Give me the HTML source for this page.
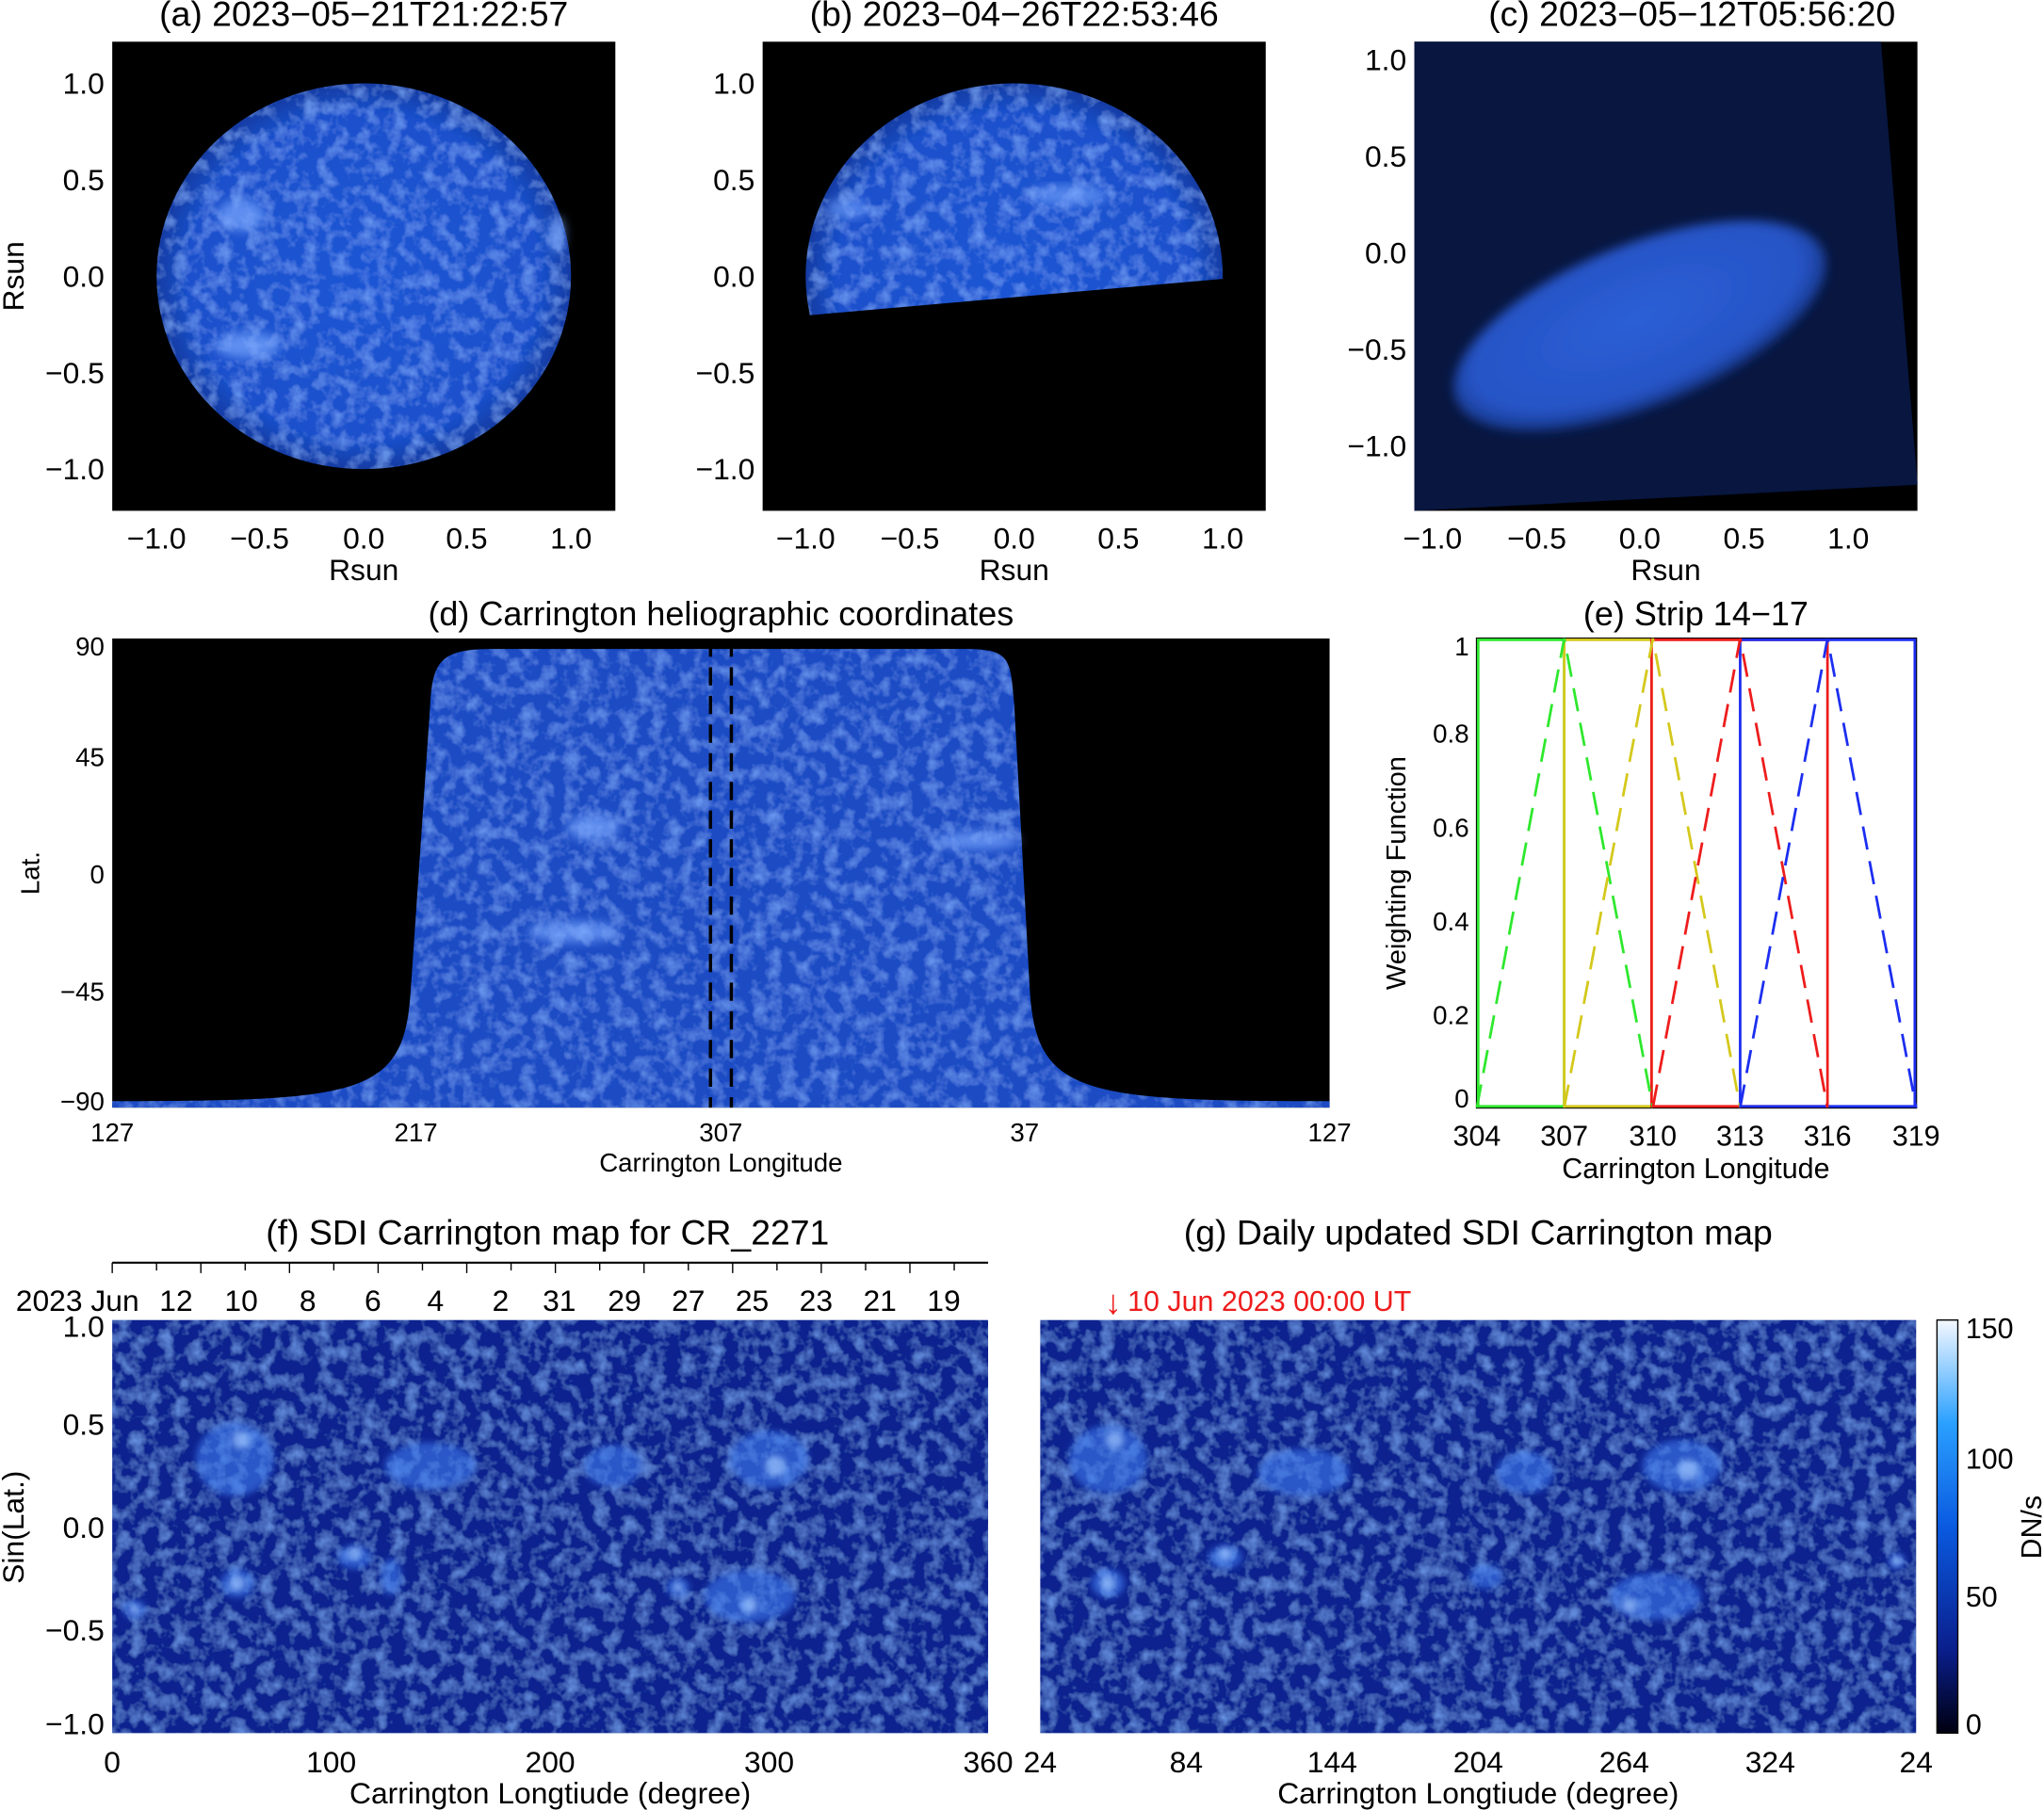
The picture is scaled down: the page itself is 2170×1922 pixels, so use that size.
<!DOCTYPE html>
<html><head><meta charset="utf-8"><style>
html,body{margin:0;padding:0;background:#fff;}
svg{display:block;}
text{font-family:"Liberation Sans",sans-serif;fill:#000;}
</style></head><body>
<svg width="2170" height="1922" viewBox="0 0 1568 1389" xmlns="http://www.w3.org/2000/svg">
<defs>
<filter id="tex" x="0" y="0" width="100%" height="100%">
<feTurbulence type="fractalNoise" baseFrequency="0.09" numOctaves="3" seed="3" result="n"/>
<feColorMatrix in="n" type="matrix" values="0 0 0 0 0.2  0 0 0 0 0.42  0 0 0 0 1  1.3 0 0 0 -0.55" result="c"/>
<feComposite in="c" in2="SourceGraphic" operator="in" result="ci"/>
<feMerge><feMergeNode in="SourceGraphic"/><feMergeNode in="ci"/></feMerge>
</filter>
<filter id="blur4"><feGaussianBlur stdDeviation="4"/></filter>
<filter id="blur2"><feGaussianBlur stdDeviation="2.5"/></filter>
<radialGradient id="disk" cx="50%" cy="50%" r="50%">
<stop offset="0" stop-color="#1c55d4"/><stop offset="0.85" stop-color="#1a50cc"/><stop offset="1" stop-color="#123ca4"/>
</radialGradient>
<radialGradient id="ell" cx="50%" cy="45%" r="55%">
<stop offset="0" stop-color="#2c5fd6"/><stop offset="0.8" stop-color="#2654c6"/><stop offset="1" stop-color="#12307a"/>
</radialGradient>
<clipPath id="cb"><polygon points="585,32 971,32 971,214 938,214 620,242 585,242"/></clipPath>
</defs>

<!-- (a) -->
<text x="279" y="20" font-size="27" text-anchor="middle">(a) 2023−05−21T21:22:57</text>
<rect x="86" y="32" width="386" height="360" fill="#000"/>
<ellipse cx="279" cy="212" rx="159" ry="148" fill="url(#disk)" filter="url(#tex)"/>
<g filter="url(#blur4)" fill="#7aa8ff" opacity="0.7">
<ellipse cx="185" cy="165" rx="18" ry="12"/><ellipse cx="190" cy="265" rx="25" ry="10"/><ellipse cx="427" cy="180" rx="6" ry="14"/>
</g>
<g font-size="23">
<text x="80" y="72" text-anchor="end">1.0</text><text x="80" y="146" text-anchor="end">0.5</text><text x="80" y="220" text-anchor="end">0.0</text><text x="80" y="294" text-anchor="end">−0.5</text><text x="80" y="368" text-anchor="end">−1.0</text>
<text x="120" y="421" text-anchor="middle">−1.0</text><text x="199" y="421" text-anchor="middle">−0.5</text><text x="279" y="421" text-anchor="middle">0.0</text><text x="358" y="421" text-anchor="middle">0.5</text><text x="438" y="421" text-anchor="middle">1.0</text>
<text x="279" y="445" text-anchor="middle">Rsun</text>
<text transform="translate(18,212) rotate(-90)" text-anchor="middle">Rsun</text>
</g>

<!-- (b) -->
<text x="778" y="20" font-size="27" text-anchor="middle">(b) 2023−04−26T22:53:46</text>
<rect x="585" y="32" width="386" height="360" fill="#000"/>
<g clip-path="url(#cb)">
<ellipse cx="778" cy="212" rx="160" ry="148" fill="url(#disk)" filter="url(#tex)"/>
<g filter="url(#blur4)" fill="#7aa8ff" opacity="0.6"><ellipse cx="820" cy="150" rx="30" ry="8"/><ellipse cx="650" cy="160" rx="16" ry="8"/></g>
</g>
<g font-size="23">
<text x="579" y="72" text-anchor="end">1.0</text><text x="579" y="146" text-anchor="end">0.5</text><text x="579" y="220" text-anchor="end">0.0</text><text x="579" y="294" text-anchor="end">−0.5</text><text x="579" y="368" text-anchor="end">−1.0</text>
<text x="618" y="421" text-anchor="middle">−1.0</text><text x="698" y="421" text-anchor="middle">−0.5</text><text x="778" y="421" text-anchor="middle">0.0</text><text x="858" y="421" text-anchor="middle">0.5</text><text x="938" y="421" text-anchor="middle">1.0</text>
<text x="778" y="445" text-anchor="middle">Rsun</text>
</g>

<!-- (c) -->
<text x="1298" y="20" font-size="27" text-anchor="middle">(c) 2023−05−12T05:56:20</text>
<rect x="1085" y="32" width="386" height="360" fill="#000"/>
<polygon points="1085,32 1443,32 1471,370 1471,372 1085,392" fill="#081640"/>
<ellipse cx="1258" cy="250" rx="152" ry="62" transform="rotate(-22 1258 250)" fill="url(#ell)" filter="url(#blur4)"/>
<g font-size="23">
<text x="1079" y="54" text-anchor="end">1.0</text><text x="1079" y="128" text-anchor="end">0.5</text><text x="1079" y="202" text-anchor="end">0.0</text><text x="1079" y="276" text-anchor="end">−0.5</text><text x="1079" y="350" text-anchor="end">−1.0</text>
<text x="1099" y="421" text-anchor="middle">−1.0</text><text x="1179" y="421" text-anchor="middle">−0.5</text><text x="1258" y="421" text-anchor="middle">0.0</text><text x="1338" y="421" text-anchor="middle">0.5</text><text x="1418" y="421" text-anchor="middle">1.0</text>
<text x="1278" y="445" text-anchor="middle">Rsun</text>
</g>

<!-- (d) -->
<text x="553" y="480" font-size="26" text-anchor="middle">(d) Carrington heliographic coordinates</text>
<rect x="86" y="490" width="934" height="360" fill="#000"/>
<path d="M86,850 L86,845 C280,845 310,840 315,760 L330,540 C332,505 340,498 380,498 L740,498 C775,498 775,505 778,540 L790,760 C795,840 830,845 1020,845 L1020,850 Z" fill="#1a4cc4" filter="url(#tex)"/>
<g filter="url(#blur4)" fill="#7aa8ff" opacity="0.7">
<ellipse cx="455" cy="635" rx="20" ry="10"/><ellipse cx="440" cy="715" rx="35" ry="8"/><ellipse cx="750" cy="645" rx="32" ry="7"/>
</g>
<line x1="545" y1="490" x2="545" y2="850" stroke="#000" stroke-width="2.5" stroke-dasharray="14,8"/>
<line x1="561" y1="490" x2="561" y2="850" stroke="#000" stroke-width="2.5" stroke-dasharray="14,8"/>
<g font-size="20">
<text x="80" y="503" text-anchor="end">90</text><text x="80" y="588" text-anchor="end">45</text><text x="80" y="678" text-anchor="end">0</text><text x="80" y="768" text-anchor="end">−45</text><text x="80" y="852" text-anchor="end">−90</text>
<text x="86" y="876" text-anchor="middle">127</text><text x="319" y="876" text-anchor="middle">217</text><text x="553" y="876" text-anchor="middle">307</text><text x="786" y="876" text-anchor="middle">37</text><text x="1020" y="876" text-anchor="middle">127</text>
<text x="553" y="899" text-anchor="middle">Carrington Longitude</text>
<text transform="translate(30,670) rotate(-90)" text-anchor="middle">Lat.</text>
</g>

<!-- (e) -->
<text x="1301" y="480" font-size="26" text-anchor="middle">(e) Strip 14−17</text>
<rect x="1133" y="490" width="337" height="360" fill="#fff" stroke="#000" stroke-width="1.5"/>
<g fill="none" stroke-width="2">
<rect x="1134" y="491" width="66" height="358" stroke="#2ee82e"/>
<rect x="1200" y="491" width="67" height="358" stroke="#d4c81c"/>
<rect x="1267" y="491" width="135" height="358" stroke="#ee1c1c"/>
<rect x="1335" y="491" width="134" height="358" stroke="#1c2ef0"/>
<g stroke-dasharray="18,9">
<polyline points="1133,850 1200,490 1268,850" stroke="#2ee82e"/>
<polyline points="1200,850 1268,490 1335,850" stroke="#d4c81c"/>
<polyline points="1268,850 1335,490 1402,850" stroke="#ee1c1c"/>
<polyline points="1335,850 1402,490 1470,850" stroke="#1c2ef0"/>
</g>
</g>
<g font-size="20">
<text x="1127" y="503" text-anchor="end">1</text><text x="1127" y="570" text-anchor="end">0.8</text><text x="1127" y="642" text-anchor="end">0.6</text><text x="1127" y="714" text-anchor="end">0.4</text><text x="1127" y="786" text-anchor="end">0.2</text><text x="1127" y="850" text-anchor="end">0</text>
<g font-size="22"><text x="1133" y="879" text-anchor="middle">304</text><text x="1200" y="879" text-anchor="middle">307</text><text x="1268" y="879" text-anchor="middle">310</text><text x="1335" y="879" text-anchor="middle">313</text><text x="1402" y="879" text-anchor="middle">316</text><text x="1470" y="879" text-anchor="middle">319</text></g>
<text x="1301" y="904" text-anchor="middle" font-size="22">Carrington Longitude</text>
<text transform="translate(1078,670) rotate(-90)" text-anchor="middle" font-size="21">Weighting Function</text>
</g>

<!-- (f) -->
<text x="420" y="955" font-size="27" text-anchor="middle">(f) SDI Carrington map for CR_2271</text>
<line x1="86" y1="969" x2="758" y2="969" stroke="#000" stroke-width="1.5"/>
<g stroke="#000" stroke-width="1">
<path d="M86,969v8M120,969v6M154,969v8M188,969v6M222,969v8M256,969v6M290,969v8M324,969v6M358,969v8M392,969v6M426,969v8M460,969v6M494,969v8M528,969v6M562,969v8M596,969v6M630,969v8M664,969v6M698,969v8M732,969v6"/>
</g>
<rect x="86" y="1013" width="672" height="317" fill="#08208e" filter="url(#tex)"/>
<g filter="url(#blur2)" fill="#3f7cf0" opacity="0.6">
<ellipse cx="180" cy="1120" rx="30" ry="28"/><ellipse cx="330" cy="1125" rx="35" ry="18"/><ellipse cx="590" cy="1120" rx="30" ry="22"/><ellipse cx="470" cy="1125" rx="22" ry="16"/>
<ellipse cx="182" cy="1215" rx="13" ry="11"/><ellipse cx="272" cy="1195" rx="13" ry="9"/><ellipse cx="575" cy="1225" rx="35" ry="20"/><ellipse cx="103" cy="1235" rx="9" ry="7"/><ellipse cx="520" cy="1218" rx="9" ry="7"/><ellipse cx="300" cy="1210" rx="8" ry="14"/>
</g>
<g filter="url(#blur2)" fill="#9cc4ff" opacity="0.7">
<circle cx="185" cy="1105" r="7"/><circle cx="595" cy="1125" r="8"/><circle cx="182" cy="1215" r="6"/><circle cx="272" cy="1192" r="5"/><circle cx="575" cy="1232" r="6"/><circle cx="103" cy="1235" r="4"/><circle cx="520" cy="1218" r="4"/>
</g>
<g font-size="23">
<text x="12" y="1006">2023 Jun</text>
<text x="135" y="1006" text-anchor="middle">12</text><text x="185" y="1006" text-anchor="middle">10</text><text x="236" y="1006" text-anchor="middle">8</text><text x="286" y="1006" text-anchor="middle">6</text><text x="334" y="1006" text-anchor="middle">4</text><text x="384" y="1006" text-anchor="middle">2</text><text x="429" y="1006" text-anchor="middle">31</text><text x="479" y="1006" text-anchor="middle">29</text><text x="528" y="1006" text-anchor="middle">27</text><text x="577" y="1006" text-anchor="middle">25</text><text x="626" y="1006" text-anchor="middle">23</text><text x="675" y="1006" text-anchor="middle">21</text><text x="724" y="1006" text-anchor="middle">19</text>
<text x="80" y="1026" text-anchor="end">1.0</text><text x="80" y="1101" text-anchor="end">0.5</text><text x="80" y="1180" text-anchor="end">0.0</text><text x="80" y="1259" text-anchor="end">−0.5</text><text x="80" y="1331" text-anchor="end">−1.0</text>
<text x="86" y="1360" text-anchor="middle">0</text><text x="254" y="1360" text-anchor="middle">100</text><text x="422" y="1360" text-anchor="middle">200</text><text x="590" y="1360" text-anchor="middle">300</text><text x="758" y="1360" text-anchor="middle">360</text>
<text x="422" y="1384" text-anchor="middle">Carrington Longtiude (degree)</text>
<text transform="translate(18,1172) rotate(-90)" text-anchor="middle">Sin(Lat.)</text>
</g>

<!-- (g) -->
<text x="1134" y="955" font-size="27" text-anchor="middle">(g) Daily updated SDI Carrington map</text>
<text x="854" y="1008" font-size="26" text-anchor="middle" style="fill:#ee1c1c">↓</text>
<text x="865" y="1006" font-size="22" style="fill:#ee1c1c">10 Jun 2023 00:00 UT</text>
<rect x="798" y="1013" width="672" height="317" fill="#08208e" filter="url(#tex)"/>
<g filter="url(#blur2)" fill="#3f7cf0" opacity="0.6">
<ellipse cx="850" cy="1120" rx="30" ry="26"/><ellipse cx="1000" cy="1130" rx="35" ry="18"/><ellipse cx="1290" cy="1125" rx="30" ry="20"/><ellipse cx="1170" cy="1130" rx="22" ry="16"/>
<ellipse cx="850" cy="1215" rx="13" ry="11"/><ellipse cx="940" cy="1195" rx="13" ry="9"/><ellipse cx="1270" cy="1225" rx="35" ry="18"/><ellipse cx="1140" cy="1210" rx="13" ry="9"/><ellipse cx="1455" cy="1198" rx="6" ry="6"/>
</g>
<g filter="url(#blur2)" fill="#9cc4ff" opacity="0.7">
<circle cx="855" cy="1105" r="7"/><circle cx="1295" cy="1128" r="8"/><circle cx="850" cy="1215" r="6"/><circle cx="940" cy="1192" r="5"/><circle cx="1250" cy="1232" r="6"/><circle cx="1455" cy="1198" r="4"/>
</g>
<g font-size="23">
<text x="798" y="1360" text-anchor="middle">24</text><text x="910" y="1360" text-anchor="middle">84</text><text x="1022" y="1360" text-anchor="middle">144</text><text x="1134" y="1360" text-anchor="middle">204</text><text x="1246" y="1360" text-anchor="middle">264</text><text x="1358" y="1360" text-anchor="middle">324</text><text x="1470" y="1360" text-anchor="middle">24</text>
<text x="1134" y="1384" text-anchor="middle">Carrington Longtiude (degree)</text>
</g>

<!-- colorbar -->
<defs><linearGradient id="cbg" x1="0" y1="1" x2="0" y2="0">
<stop offset="0" stop-color="#000010"/><stop offset="0.2" stop-color="#0a1e8c"/><stop offset="0.5" stop-color="#0a5ae0"/><stop offset="0.75" stop-color="#2aa0ff"/><stop offset="1" stop-color="#f4f8ff"/>
</linearGradient></defs>
<rect x="1486" y="1013" width="16" height="317" fill="url(#cbg)" stroke="#000" stroke-width="1"/>
<g font-size="22">
<text x="1508" y="1027">150</text><text x="1508" y="1127">100</text><text x="1508" y="1233">50</text><text x="1508" y="1331">0</text>
<text transform="translate(1566,1172) rotate(-90)" text-anchor="middle">DN/s</text>
</g>
</svg>
</body></html>
